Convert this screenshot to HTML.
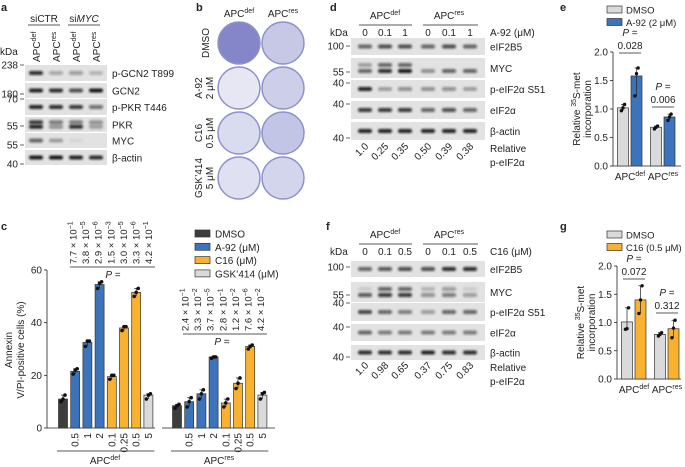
<!DOCTYPE html>
<html><head><meta charset="utf-8"><style>
html,body{margin:0;padding:0;background:#fff;}
svg{display:block;font-family:"Liberation Sans",sans-serif;}
text{fill:#222;}
</style></head><body>
<svg id="fig" width="685" height="467" viewBox="0 0 685 467" xmlns="http://www.w3.org/2000/svg">
<defs><filter id="bl" x="-20%" y="-50%" width="140%" height="200%"><feGaussianBlur stdDeviation="1"/></filter></defs>
<g font-weight="bold" font-size="11">
<text x="1" y="11">a</text><text x="196" y="11">b</text><text x="330" y="11">d</text><text x="560" y="11">e</text>
<text x="1" y="230">c</text><text x="326" y="230">f</text><text x="560" y="230">g</text></g>
</svg>
<script>
// ---------- chart data ----------
const cDoses = ["", "0.5", "1", "2", "0.1", "0.25", "0.5", "5"];
const cDefValues = [11, 21.5, 32.5, 54.5, 19.5, 38, 51.5, 12.5];
const cResValues = [8.5, 10, 13, 27, 9.5, 17, 31, 12.5];
const cDefReps = [[10,11,12.5],[20.5,22,22.5],[31,33,33],[53,55,55.5],[18.5,20,20],[37,38.5,38.5],[50,51.5,53],[11,12.5,13]];
const cResReps = [[7.5,8.5,9],[8,10,11.5],[11,13,14.5],[26.5,27,27],[8,9.5,11],[15,17,19],[30,31,31.5],[11,13,13.5]];
const cDefP = [["7.7","−1"],["3.8","−5"],["2.9","−6"],["1.5","−3"],["3.0","−5"],["3.3","−6"],["4.2","−1"]];
const cResP = [["2.4","−1"],["3.3","−2"],["3.7","−5"],["2.8","−1"],["1.2","−2"],["7.6","−6"],["4.2","−2"]];
const cYTicks = [0, 20, 40, 60];
const eGroups = ["def", "res"];
const eDMSO = [1.02, 0.68];
const eA92 = [1.58, 0.86];
const eDMSOReps = [[0.97,1.02,1.08],[0.65,0.68,0.70]];
const eA92Reps = [[1.23,1.62,1.72],[0.80,0.86,0.91]];
const eP = ["0.028", "0.006"];
const gDMSO = [1.01, 0.79];
const gC16 = [1.40, 0.89];
const gDMSOReps = [[0.88,0.89,1.26],[0.76,0.79,0.82]];
const gC16Reps = [[1.16,1.40,1.65],[0.73,0.90,1.04]];
const gP = ["0.072", "0.312"];
const smallYTicks = [0, 0.5, 1.0, 1.5, 2.0];
const dRelative = ["1.0","0.25","0.35","0.50","0.39","0.38"];
const fRelative = ["1.0","0.98","0.65","0.37","0.75","0.83"];

const NS = "http://www.w3.org/2000/svg";
const svg = document.getElementById('fig');
function el(tag, attrs, parent, txt){const e=document.createElementNS(NS,tag);for(const k in attrs)e.setAttribute(k,attrs[k]);if(txt!==undefined)e.textContent=txt;(parent||svg).appendChild(e);return e;}
function grp(name){const g=el('g',{});


return g;}
function sup(t, base, s){el('tspan',{'font-size':'7','dy':'-4'},t,s);}
function ln(g,x1,y1,x2,y2,w){el('line',{x1,y1,x2,y2,stroke:'#222','stroke-width':w||0.8},g);}

const C_DMSO='#3d3d3d', C_BLUE='#3b74bb', C_OR='#f8b22f', C_LG='#dadada';

// ---------- panel c ----------
(function(){
 const g = grp('panel-c-annexin-chart');
 const y0=428, pxu=158/60, ax=47;
 const yS=v=>y0-v*pxu;
 const colors=[C_DMSO,C_BLUE,C_BLUE,C_BLUE,C_OR,C_OR,C_OR,C_LG];
 ln(g,ax,yS(60),ax,y0);
 cYTicks.forEach(t=>{ln(g,ax-3,yS(t),ax,yS(t));el('text',{x:ax-5,y:yS(t)+3.5,'text-anchor':'end','font-size':'10'},g,t);});
 el('text',{transform:'translate(12,350) rotate(-90)','text-anchor':'middle','font-size':'10'},g,'Annexin');
 el('text',{transform:'translate(24,350) rotate(-90)','text-anchor':'middle','font-size':'10'},g,'V/PI-positive cells (%)');
 function group(vals,reps,x0,lineX1,lineX2,label,labelX){
  ln(g,lineX1,y0,lineX2,y0);
  vals.forEach((v,i)=>{
   const cx=x0+i*12.2;
   const b=el('rect',{x:cx-4.5,y:yS(v),width:9,height:y0-yS(v),fill:colors[i],stroke:'#333','stroke-width':0.7},g);
   
   
   const r=reps[i];const mn=Math.min(...r),mx=Math.max(...r);
   ln(g,cx,yS(mn),cx,yS(mx),0.7);ln(g,cx-2,yS(mx),cx+2,yS(mx),0.7);
   r.forEach((p,k)=>el('circle',{cx:cx+(k-1)*2,cy:yS(p),r:1.8,fill:'#111'},g));
   if(cDoses[i]) el('text',{transform:`translate(${cx+3.5},${y0+5}) rotate(-90)`,'text-anchor':'end','font-size':'10'},g,cDoses[i]);
  });
  ln(g,x0-6,y0+23,x0+7*12.2+6,y0+23);
  const t=el('text',{x:labelX,y:y0+36,'text-anchor':'middle','font-size':'10'},g,'APC');sup(t,0,label);
 }
 group(cDefValues,cDefReps,63,ax,155,'def',105);
 group(cResValues,cResReps,177,162,275,'res',219);
 function pblock(pv,x0,lineY,lx1,lx2,px){
  pv.forEach((p,i)=>{const cx=x0+i*12.6;
   const t=el('text',{transform:`translate(${cx+3.5},${lineY-3}) rotate(-90)`,'font-size':'9.5'},g,p[0]+' × 10');sup(t,0,p[1]);});
  ln(g,lx1,lineY,lx2,lineY);
  const t=el('text',{x:px,y:lineY+11,'text-anchor':'middle','font-size':'10'},g);
  el('tspan',{'font-style':'italic'},t,'P');el('tspan',{},t,' =');
 }
 pblock(cDefP,73,267,70,155,113);
 pblock(cResP,185,334,183,267,222);
 const lg=grp('panel-c-legend');
 [['DMSO',C_DMSO],['A-92 (μM)',C_BLUE],['C16 (μM)',C_OR],['GSK’414 (μM)',C_LG]].forEach((d,i)=>{
  const y=230+i*13.3;
  el('rect',{x:195,y:y,width:15,height:7,fill:d[1],stroke:'#333','stroke-width':0.7},lg);
  el('text',{x:215,y:y+7.5,'font-size':'10'},lg,d[0]);
 });
})();

// ---------- panels e and g ----------
function smallChart(name,y0,pxu,ax,dm,tr,dmR,trR,pv,trColor,legend2,legY,pY){
 const g=grp(name);
 const yS=v=>y0-v*pxu;
 ln(g,ax,yS(2),ax,y0);ln(g,ax,y0,681,y0);
 smallYTicks.forEach(t=>{ln(g,ax-3,yS(t),ax,yS(t));el('text',{x:ax-5,y:yS(t)+3.5,'text-anchor':'end','font-size':'10'},g,t.toFixed(1));});
 const yl=el('text',{transform:`translate(${ax-33},${yS(1)}) rotate(-90)`,'text-anchor':'middle','font-size':'10'},g,'Relative ');
 el('tspan',{'font-size':'7','dy':'-4'},yl,'35');el('tspan',{'dy':'4'},yl,'S-met');
 el('text',{transform:`translate(${ax-22},${yS(1)}) rotate(-90)`,'text-anchor':'middle','font-size':'10'},g,'incorporation');
 const cx0=[ax+10,ax+43];
 eGroups.forEach((gr,i)=>{
  [[dm[i],dmR[i],C_LG,0],[tr[i],trR[i],trColor,13.5]].forEach(([v,r,c,off])=>{
   const cx=cx0[i]+off;
   const b=el('rect',{x:cx-5.5,y:yS(v),width:11,height:y0-yS(v),fill:c,stroke:'#333','stroke-width':0.7},g);
   
   
   const mn=Math.min(...r),mx=Math.max(...r);
   ln(g,cx,yS(mn),cx,yS(mx),0.7);ln(g,cx-2,yS(mx),cx+2,yS(mx),0.7);
   r.forEach((p,k)=>el('circle',{cx:cx+(k-1)*1.6,cy:yS(p),r:1.7,fill:'#111'},g));
  });
  const t=el('text',{x:cx0[i]+7,y:y0+14,'text-anchor':'middle','font-size':'10'},g,'APC');sup(t,0,gr);
  const ly=pY[i];
  ln(g,cx0[i]-4,ly,cx0[i]+18,ly);
  el('text',{x:cx0[i]+7,y:ly-4,'text-anchor':'middle','font-size':'10'},g,pv[i]);
  const pt=el('text',{x:cx0[i]+7,y:ly-17,'text-anchor':'middle','font-size':'10'},g);
  el('tspan',{'font-style':'italic'},pt,'P');el('tspan',{},pt,' =');
 });
 [['DMSO',C_LG],[legend2,trColor]].forEach((d,i)=>{
  el('rect',{x:607,y:legY+i*12.5,width:15,height:7,fill:d[1],stroke:'#333','stroke-width':0.7},g);
  el('text',{x:626,y:legY+i*12.5+7.5,'font-size':'9.5'},g,d[0]);
 });
}
smallChart('panel-e-chart',166,57,613,eDMSO,eA92,eDMSOReps,eA92Reps,eP,C_BLUE,'A-92 (2 μM)',6,[53,107]);
smallChart('panel-g-chart',379,56.5,617,gDMSO,gC16,gDMSOReps,gC16Reps,gP,C_OR,'C16 (0.5 μM)',231,[279,313]);

// ---------- western blots ----------
function blot(name,x1,x2,lanes,rows,bandW){
 const g=grp(name);
 rows.forEach(r=>{
  el('rect',{x:x1,y:r.y,width:x2-x1,height:r.h,fill:'#e2e2e2'},g);
  (r.bands||[r.b]).forEach((arr,bi)=>{
   const n=(r.bands||[r.b]).length;
   const by=r.y+r.h*(n===1?0.5:(bi===0?0.35:0.65));
   arr.forEach((v,i)=>{ if(v<=0.02)return;
    el('rect',{x:lanes[i]-bandW/2,y:by-2,width:bandW,height:4,rx:2,fill:'#111','fill-opacity':v,filter:'url(#bl)'},g);});
  });
  el('text',{x:x2+5,y:r.y+r.h/2+4,'font-size':'10'},g,r.label);
 });
 return g;
}
function kda(g,x,items){items.forEach(([t,y])=>{el('text',{x:x,y:y+3.5,'text-anchor':'end','font-size':'10'},g,t);ln(g,x+2,y,x+6,y,0.7);});}
// panel a
(function(){
 const lanes=[36,56,76,96];
 const g=blot('panel-a-blot',25,107,lanes,[
  {y:65,h:16,label:'p-GCN2 T899',b:[0.85,0.25,0.35,0.2]},
  {y:83,h:15,label:'GCN2',b:[0.9,0.85,0.7,0.95]},
  {y:99,h:16,label:'p-PKR T446',b:[0.9,0.85,0.8,0.55]},
  {y:117,h:15,label:'PKR',bands:[[0.8,0.5,0.5,0.4],[0.9,0.4,0.85,0.35]]},
  {y:133,h:15,label:'MYC',b:[0.6,0.3,0.05,0.02]},
  {y:150,h:15,label:'β-actin',b:[0.95,0.95,0.9,0.85]}],14);
 kda(g,18,[['238',65],['180',94],['70',99],['55',126],['55',145],['40',164]]);
 el('text',{x:0,y:55,'font-size':'10'},g,'kDa');
 el('text',{x:44,y:22,'text-anchor':'middle','font-size':'10'},g,'siCTR');ln(g,28,25,60,25);
 const t=el('text',{x:84,y:22,'text-anchor':'middle','font-size':'10'},g,'si');el('tspan',{'font-style':'italic'},t,'MYC');ln(g,68,25,100,25);
 ['def','res','def','res'].forEach((s,i)=>{const tt=el('text',{transform:`translate(${lanes[i]+4},62) rotate(-90)`,'font-size':'10'},g,'APC');sup(tt,0,s);});
})();
// panel b plates
(function(){
 const g=grp('panel-b-plates');
 const fills=[['#8486c9','#c6c8e6'],['#e6e7f3','#cdcfe9'],['#d9dbef','#c3c5e6'],['#dfe0f1','#d3d5ec']];
 const rowsL=[['DMSO',''],['A-92','2 μM'],['C16','0.5 μM'],['GSK’414','5 μM']];
 [43,88,133,178].forEach((cy,r)=>{
  [239,283].forEach((cx,c)=>el('circle',{cx,cy,r:21,fill:fills[r][c],stroke:'#8f91cc','stroke-width':1.5},g));
  const l=rowsL[r];
  if(l[1]){el('text',{transform:`translate(202,${cy}) rotate(-90)`,'text-anchor':'middle','font-size':'10'},g,l[0]);
   el('text',{transform:`translate(213,${cy}) rotate(-90)`,'text-anchor':'middle','font-size':'10'},g,l[1]);}
  else el('text',{transform:`translate(209,${cy}) rotate(-90)`,'text-anchor':'middle','font-size':'10'},g,l[0]);
 });
 [[239,'def'],[283,'res']].forEach(([x,s])=>{const t=el('text',{x,y:17,'text-anchor':'middle','font-size':'10'},g,'APC');sup(t,0,s);});
})();
// panels d and f
function dfPanel(name,oy,doses,drug,rows,rel,kd){
 const lanes=[365,385,405,428,449,470];
 const g=blot(name,351,485,lanes,rows.map(r=>Object.assign({},r,{y:r.y+oy})),14);
 el('text',{x:330,y:oy+36,'font-size':'10'},g,'kDa');
 kda(g,344,kd.map(([t,y])=>[t,oy+y]));
 [[385,'def',359,412],[449,'res',423,478]].forEach(([x,s,a,b])=>{const t=el('text',{x,y:oy+19,'text-anchor':'middle','font-size':'10'},g,'APC');sup(t,0,s);ln(g,a,oy+25,b,oy+25);});
 doses.forEach((d,i)=>el('text',{x:lanes[i],y:oy+36,'text-anchor':'middle','font-size':'10'},g,d));
 el('text',{x:490,y:oy+36,'font-size':'10'},g,drug);
 rel.forEach((r,i)=>el('text',{transform:`translate(${lanes[i]+4},${oy+147}) rotate(-45)`,'text-anchor':'end','font-size':'10'},g,r));
 el('text',{x:490,y:oy+152,'font-size':'10'},g,'Relative');
 el('text',{x:490,y:oy+166,'font-size':'10'},g,'p-eIF2α');
}
dfPanel('panel-d-blot',0,['0','0.1','1','0','0.1','1'],'A-92 (μM)',[
 {y:38,h:17,label:'eIF2B5',b:[0.6,0.7,0.7,0.6,0.7,0.6]},
 {y:58,h:20,label:'MYC',bands:[[0.3,0.6,0.6,0,0,0],[0.6,0.85,0.95,0.4,0.6,0.6]]},
 {y:80,h:18,label:'p-eIF2α S51',b:[0.9,0.3,0.4,0.4,0.4,0.3]},
 {y:101,h:18,label:'eIF2α',b:[0.8,0.8,0.8,0.6,0.7,0.6]},
 {y:122,h:18,label:'β-actin',b:[0.9,0.9,0.9,0.9,0.9,0.9]}],dRelative,
 [['100',46],['55',72],['40',83],['40',104],['40',138]]);
dfPanel('panel-f-blot',219,['0','0.1','0.5','0','0.1','0.5'],'C16 (μM)',[
 {y:42,h:16,label:'eIF2B5',b:[0.6,0.65,0.7,0.7,0.85,0.85]},
 {y:63,h:20,label:'MYC',bands:[[0.1,0.6,0.6,0.2,0.35,0.1],[0.65,0.8,0.8,0.4,0.5,0.35]]},
 {y:84,h:18,label:'p-eIF2α S51',b:[0.75,0.6,0.5,0.35,0.6,0.6]},
 {y:105,h:17,label:'eIF2α',b:[0.6,0.5,0.5,0.5,0.5,0.5]},
 {y:126,h:15,label:'β-actin',b:[0.85,0.85,0.85,0.9,0.85,0.85]}],fRelative,
 [['100',48],['55',76],['40',84],['40',108],['40',138]]);
</script>
</body></html>
